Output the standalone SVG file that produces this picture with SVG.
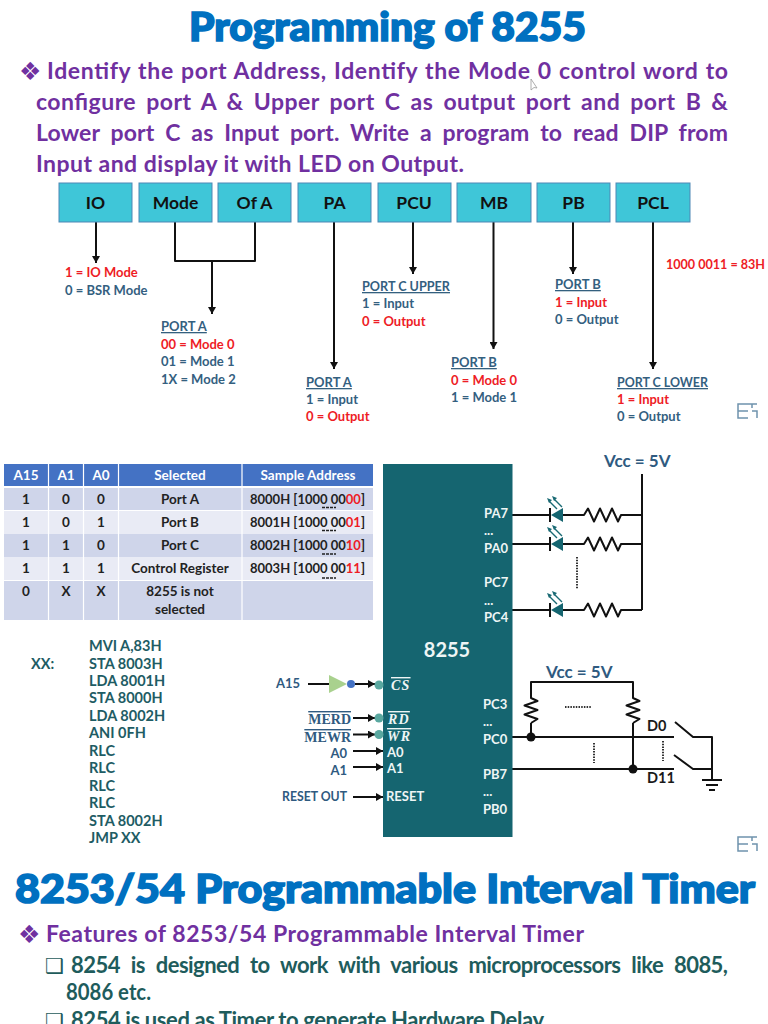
<svg xmlns="http://www.w3.org/2000/svg" xmlns:xlink="http://www.w3.org/1999/xlink" width="768" height="1024" viewBox="0 0 768 1024">
<style>
text{font-family:"Lato","Liberation Sans",sans-serif;font-weight:700}
.title{fill:#0070c0;font-size:39px;font-weight:900;stroke:#0070c0;stroke-width:1.6px}
.para{fill:#7030a0;font-size:23px}
.body{fill:#1e5c5c;font-size:22px}
.bul{font-family:"DejaVu Sans",sans-serif;font-weight:400}
.box{fill:#3fc6d8;stroke:#4f87b5;stroke-width:1}
.boxt{fill:#111;font-size:17.5px;text-anchor:middle}
.bl{fill:#34607f;font-size:13px}
.rd{fill:#ee1c25;font-size:13px}
.u{text-decoration:underline}
.th{fill:#fff;font-size:13.5px;text-anchor:middle}
.td{fill:#222;font-size:13.5px;text-anchor:middle}
.addr{fill:#222;font-size:13px;text-anchor:middle}
.red{fill:#ee1c25}
.pin{fill:#eef5f5;font-size:13px}
.ctl{fill:#eef5f5;font-size:13px}
.ctlo{fill:#eef5f5;font-size:14px;font-family:"Liberation Serif",serif;font-style:italic;letter-spacing:1.2px;text-decoration:overline}
.sig{fill:#2f5a80;font-size:13px}
.sigo{fill:#2f5a80;font-size:14px;font-family:"Liberation Serif",serif;text-decoration:overline}
.vcc{fill:#2f5a80;font-size:17px}
.asm{fill:#1e5c64;font-size:14.5px}
.sw{fill:#1a1a1a;font-size:14.5px}
.w{fill:none;stroke:#111;stroke-width:2;stroke-linejoin:round}
.a{fill:none;stroke:#111;stroke-width:2;marker-end:url(#ah)}
.dots{fill:none;stroke:#333;stroke-width:2;stroke-dasharray:1.5 1.2}
.bub{fill:#5aa8a0}
.sq{fill:none;stroke:#222;stroke-width:1.6;stroke-dasharray:3 1}
.logo{fill:none;stroke:#6f93ad;stroke-width:1.5}
</style>
<defs>
<marker id="ah" markerUnits="userSpaceOnUse" markerWidth="8" markerHeight="8" refX="7" refY="4" orient="auto"><path d="M0 0L7 4L0 8Z" fill="#111"/></marker>
<path id="res" d="M0 0H2L6-6.500L12 6.500L18-6.500L24 6.500L30-6.500L36 6.500L39 0H41" fill="none" stroke="#111" stroke-width="2" stroke-linejoin="round"/>
<path id="vres" d="M0 0V3L6.500 6L-6.500 10.500L6.500 15L-6.500 19.500L6.500 24L0 28" fill="none" stroke="#111" stroke-width="2" stroke-linejoin="round"/>
<g id="led">
<path d="M0-7V7" stroke="#111" stroke-width="2"/>
<path d="M1 0L13-7V7Z" fill="#156570"/>
<path d="M7-6L-1-14M12-8L4-16" stroke="#1a6a74" stroke-width="1.4" fill="none"/>
<path d="M-3-17L2-15L-1-12ZM2-19L7-17L4-14Z" fill="#1a6a74"/>
</g>
</defs>
<rect width="768" height="1024" fill="#fff"/>

<g id="heading">
<text class="title" x="189" y="41" textLength="397" lengthAdjust="spacingAndGlyphs">Programming of 8255</text>
<text class="bul" x="19" y="80" fill="#7030a0" font-size="25">❖</text>
<text class="para" x="47" y="79" textLength="681" word-spacing="1">Identify the port Address, Identify the Mode 0 control word to</text>
<text class="para" x="36" y="110" textLength="692" word-spacing="4">configure port A &amp; Upper port C as output port and port B &amp;</text>
<text class="para" x="36" y="141" textLength="692" word-spacing="5">Lower port C as Input port. Write a program to read DIP from</text>
<text class="para" x="36" y="172" textLength="428">Input and display it with LED on Output.</text>
<path d="M531 79L531 90L534 87.500L537 88Z" fill="#fff" stroke="#999" stroke-width="0.8"/>
</g>

<g id="connectors">
<path class="a" d="M96 222V263"/>
<path class="w" d="M175 222V261H255V222"/>
<path class="a" d="M212 261V314"/>
<path class="a" d="M334 222V369"/>
<path class="a" d="M413 222V274"/>
<path class="a" d="M493.500 222V349"/>
<path class="a" d="M573 222V274"/>
<path class="a" d="M653 222V369"/>
<path class="w" d="M308 684H330"/>
<path class="a" d="M355 684H375"/>
<path class="a" d="M353 718H375"/>
<path class="a" d="M353 734.500H375"/>
<path class="a" d="M353 751H383"/>
<path class="a" d="M353 767H383"/>
<path class="a" d="M353 797H383"/>
<path class="w" d="M512 515H550M563 515H582M623 515H642M512 544H550M563 544H582M623 544H642M512 610H550M563 610H582M623 610H642M642 474V610"/>
<path class="w" d="M531 737V723M531 695V682H633V695M633 723V769"/>
<path class="w" d="M512 737H674M512 769H674"/>
<path class="w" d="M675 722L693 737H712V780M674 755L693 769H712"/>
<path class="w" d="M702 780H722M706 785H718M709 790H715"/>
</g>

<g id="bit-boxes">
<g id="box-io"><rect class="box" x="59" y="183" width="73" height="39"/><text class="boxt" x="95.500" y="209">IO</text></g>
<g id="box-mode"><rect class="box" x="139" y="183" width="73" height="39"/><text class="boxt" x="175.500" y="209">Mode</text></g>
<g id="box-ofa"><rect class="box" x="218" y="183" width="73" height="39"/><text class="boxt" x="254.500" y="209">Of A</text></g>
<g id="box-pa"><rect class="box" x="298" y="183" width="73" height="39"/><text class="boxt" x="334.500" y="209">PA</text></g>
<g id="box-pcu"><rect class="box" x="378" y="183" width="73" height="39"/><text class="boxt" x="414" y="209">PCU</text></g>
<g id="box-mb"><rect class="box" x="457" y="183" width="74" height="39"/><text class="boxt" x="494" y="209">MB</text></g>
<g id="box-pb"><rect class="box" x="537" y="183" width="73" height="39"/><text class="boxt" x="573.500" y="209">PB</text></g>
<g id="box-pcl"><rect class="box" x="616" y="183" width="74" height="39"/><text class="boxt" x="653" y="209">PCL</text></g>
</g>

<g id="bit-notes">
<text class="rd" x="65" y="277">1 = IO Mode</text>
<text class="bl" x="65" y="295">0 = BSR Mode</text>
<text class="bl u" x="161" y="331">PORT A</text>
<text class="rd" x="161" y="349">00 = Mode 0</text>
<text class="bl" x="161" y="366">01 = Mode 1</text>
<text class="bl" x="161" y="384">1X = Mode 2</text>
<text class="bl u" x="306" y="387">PORT A</text>
<text class="bl" x="306" y="404">1 = Input</text>
<text class="rd" x="306" y="421">0 = Output</text>
<text class="bl u" x="362" y="291" textLength="88" lengthAdjust="spacingAndGlyphs">PORT C UPPER</text>
<text class="bl" x="362" y="308">1 = Input</text>
<text class="rd" x="362" y="326">0 = Output</text>
<text class="bl u" x="451" y="367">PORT B</text>
<text class="rd" x="451" y="385">0 = Mode 0</text>
<text class="bl" x="451" y="402">1 = Mode 1</text>
<text class="bl u" x="555" y="289">PORT B</text>
<text class="rd" x="555" y="307">1 = Input</text>
<text class="bl" x="555" y="324">0 = Output</text>
<text class="bl u" x="617" y="387" textLength="91" lengthAdjust="spacingAndGlyphs">PORT C LOWER</text>
<text class="rd" x="617" y="404">1 = Input</text>
<text class="bl" x="617" y="421">0 = Output</text>
<text class="rd" x="666" y="269" textLength="99" lengthAdjust="spacingAndGlyphs">1000 0011 = 83H</text>
</g>

<g id="logo-1"><path class="logo" d="M757 404H738V418H748M738 411H748M752 411H757V418M752 404V408"/></g>
<g id="logo-2"><path class="logo" d="M757 837H738V851H748M738 844H748M752 844H757V851M752 837V841"/></g>

<g id="address-table">
<rect x="4" y="464" width="369" height="22" fill="#4472c4"/>
<rect x="4" y="488" width="369" height="22" fill="#cfd5ea"/>
<rect x="4" y="511" width="369" height="23" fill="#e9ebf5"/>
<rect x="4" y="534" width="369" height="23" fill="#cfd5ea"/>
<rect x="4" y="557" width="369" height="23" fill="#e9ebf5"/>
<rect x="4" y="581" width="369" height="39" fill="#cfd5ea"/>
<path d="M48.500 464V620M83.500 464V620M118.500 464V620M242 464V620" stroke="#fff" stroke-width="1.200"/>
<text class="th" x="26" y="480">A15</text><text class="th" x="66" y="480">A1</text><text class="th" x="101" y="480">A0</text><text class="th" x="180" y="480">Selected</text><text class="th" x="308" y="480">Sample Address</text>
<text class="td" x="26" y="504">1</text><text class="td" x="66" y="504">0</text><text class="td" x="101" y="504">0</text><text class="td" x="180" y="504">Port A</text><text class="addr" x="307.500" y="504">8000H [1000 00<tspan class="red">00</tspan>]</text>
<text class="td" x="26" y="527">1</text><text class="td" x="66" y="527">0</text><text class="td" x="101" y="527">1</text><text class="td" x="180" y="527">Port B</text><text class="addr" x="307.500" y="527">8001H [1000 00<tspan class="red">01</tspan>]</text>
<text class="td" x="26" y="550">1</text><text class="td" x="66" y="550">1</text><text class="td" x="101" y="550">0</text><text class="td" x="180" y="550">Port C</text><text class="addr" x="307.500" y="550">8002H [1000 00<tspan class="red">10</tspan>]</text>
<text class="td" x="26" y="573">1</text><text class="td" x="66" y="573">1</text><text class="td" x="101" y="573">1</text><text class="td" x="180" y="573">Control Register</text><text class="addr" x="307.500" y="573">8003H [1000 00<tspan class="red">11</tspan>]</text>
<text class="td" x="26" y="596">0</text><text class="td" x="66" y="596">X</text><text class="td" x="101" y="596">X</text><text class="td" x="180" y="596">8255 is not</text><text class="td" x="180" y="614">selected</text>
<path class="sq" d="M322 507.500H336M322 530.500H336M322 554H336M322 578H336"/>
</g>

<g id="program">
<text class="asm" x="31" y="669">XX:</text>
<text class="asm" x="89" y="651">MVI A,83H</text>
<text class="asm" x="89" y="669">STA 8003H</text>
<text class="asm" x="89" y="686">LDA 8001H</text>
<text class="asm" x="89" y="703">STA 8000H</text>
<text class="asm" x="89" y="721">LDA 8002H</text>
<text class="asm" x="89" y="738">ANI 0FH</text>
<text class="asm" x="89" y="756">RLC</text>
<text class="asm" x="89" y="773">RLC</text>
<text class="asm" x="89" y="791">RLC</text>
<text class="asm" x="89" y="808">RLC</text>
<text class="asm" x="89" y="826">STA 8002H</text>
<text class="asm" x="89" y="843">JMP XX</text>
</g>

<g id="chip-8255">
<rect x="383" y="464" width="129.500" height="373" fill="#156570"/>
<text x="447" y="657" fill="#eef5f5" font-size="20" text-anchor="middle">8255</text>
<text class="pin" x="484" y="518">PA7</text><text class="pin" x="484" y="535">...</text><text class="pin" x="484" y="553">PA0</text>
<text class="pin" x="484" y="587">PC7</text><text class="pin" x="484" y="605">...</text><text class="pin" x="484" y="622">PC4</text>
<text class="pin" x="483" y="709">PC3</text><text class="pin" x="483" y="726">...</text><text class="pin" x="483" y="744">PC0</text>
<text class="pin" x="483" y="779">PB7</text><text class="pin" x="483" y="796">...</text><text class="pin" x="483" y="814">PB0</text>
<text class="ctlo" x="391" y="690">CS</text>
<text class="ctlo" x="388" y="724">RD</text>
<text class="ctlo" x="387" y="741">WR</text>
<text class="ctl" x="387" y="757">A0</text>
<text class="ctl" x="387" y="773">A1</text>
<text class="ctl" x="386" y="801">RESET</text>
<circle class="bub" cx="379" cy="685" r="4.500"/><circle class="bub" cx="379" cy="718" r="4.500"/><circle class="bub" cx="379" cy="734.500" r="4.500"/>
</g>

<g id="input-signals">
<text class="sig" x="276" y="688">A15</text>
<path d="M329 675L347 684L329 693Z" fill="#a9d18e"/>
<circle cx="351" cy="684" r="4" fill="#4472c4"/>
<text class="sigo" x="351" y="724" text-anchor="end">MERD</text>
<text class="sigo" x="351" y="742" text-anchor="end">MEWR</text>
<text class="sig" x="347" y="758" text-anchor="end">A0</text>
<text class="sig" x="347" y="775" text-anchor="end">A1</text>
<text class="sig" x="282" y="801" textLength="65" lengthAdjust="spacingAndGlyphs">RESET OUT</text>
</g>

<g id="led-bank">
<text class="vcc" x="604" y="467">Vcc = 5V</text>
<use xlink:href="#led" href="#led" x="550" y="515"/><use xlink:href="#res" href="#res" x="582" y="515"/>
<use xlink:href="#led" href="#led" x="550" y="544"/><use xlink:href="#res" href="#res" x="582" y="544"/>
<use xlink:href="#led" href="#led" x="550" y="610"/><use xlink:href="#res" href="#res" x="582" y="610"/>
<path class="dots" d="M577 557V589"/>
</g>

<g id="switch-bank">
<text class="vcc" x="546" y="678">Vcc = 5V</text>
<use xlink:href="#vres" href="#vres" x="531" y="695"/>
<use xlink:href="#vres" href="#vres" x="633" y="695"/>
<circle cx="531" cy="737" r="4.500" fill="#111"/><circle cx="633" cy="769" r="4.500" fill="#111"/>
<path class="dots" d="M565 707H592M594 743V763M663 741V761"/>
<text class="sw" x="647" y="731">D0</text>
<text class="sw" x="647" y="783">D11</text>
</g>

<g id="section-2">
<text class="title" x="15" y="903" textLength="740" lengthAdjust="spacingAndGlyphs">8253/54 Programmable Interval Timer</text>
<text class="bul" x="18" y="943" fill="#7030a0" font-size="25">❖</text>
<text class="para" x="46" y="942" textLength="538">Features of 8253/54 Programmable Interval Timer</text>
<text class="bul" x="45" y="973" fill="#1e5c5c" font-size="21">❑</text>
<text class="body" x="71" y="973" textLength="657" word-spacing="6">8254 is designed to work with various microprocessors like 8085,</text>
<text class="body" x="66" y="1000" textLength="85" lengthAdjust="spacingAndGlyphs">8086 etc.</text>
<text class="bul" x="45" y="1028" fill="#1e5c5c" font-size="21">❑</text>
<text class="body" x="71" y="1028" textLength="473">8254 is used as Timer to generate Hardware Delay</text>
</g>
</svg>
